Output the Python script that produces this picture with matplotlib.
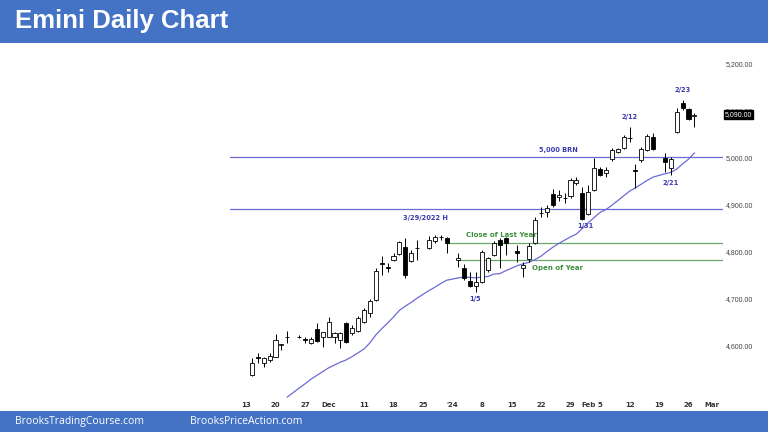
import matplotlib
matplotlib.use("Agg")
import matplotlib.pyplot as plt
from matplotlib.patches import Rectangle

# ---------------- data ----------------
# trading-day index: weekdays counted from Mon 13 Nov 2023 (=0)
day_idx = [1, 2, 3, 4, 5, 6, 7, 9, 10, 11, 12, 13, 14, 15, 16, 17, 18, 19,
           20, 21, 22, 23, 24, 25, 26, 27, 28, 29, 31, 32, 33, 34, 36, 37, 38, 39,
           40, 41, 42, 43, 44, 46, 47, 48, 49, 50, 51, 52, 53, 54, 55, 56, 57, 58,
           59, 60, 61, 62, 63, 64, 65, 66, 67, 68, 69, 71, 72, 73, 74, 75, 76]
opens = [4538, 4576, 4563, 4570, 4576, 4601, 4618, 4618, 4613, 4606, 4635, 4618, 4618, 4618, 4612, 4648, 4627, 4631,
         4650, 4669, 4697, 4775, 4766, 4782, 4795, 4810, 4780, 4808, 4807, 4822, 4831, 4829, 4782, 4765, 4737, 4727,
         4735, 4761, 4793, 4824, 4829, 4801, 4765, 4784, 4818, 4882, 4884, 4922, 4916, 4914, 4918, 4945, 4924, 4880,
         4931, 4975, 4967, 4996, 5011, 5020, 5042, 4972, 4994, 5016, 5043, 4999, 4977, 5054, 5115, 5102, 5088]
highs = [4574, 4585, 4576, 4585, 4625, 4604, 4631, 4622, 4618, 4618, 4648, 4630, 4661, 4629, 4629, 4650, 4644, 4663,
         4680, 4699, 4765, 4790, 4776, 4797, 4822, 4829, 4803, 4824, 4833, 4835, 4835, 4831, 4797, 4773, 4756, 4756,
         4803, 4788, 4822, 4829, 4831, 4814, 4778, 4818, 4873, 4894, 4899, 4933, 4931, 4924, 4956, 4958, 4937, 4941,
         4998, 4979, 4979, 5020, 5020, 5047, 5064, 4986, 5022, 5050, 5051, 5009, 5001, 5104, 5122, 5105, 5094]
lows = [4536, 4563, 4555, 4565, 4576, 4590, 4606, 4616, 4606, 4604, 4608, 4597, 4618, 4606, 4595, 4606, 4623, 4629,
        4648, 4661, 4695, 4750, 4756, 4780, 4793, 4744, 4778, 4782, 4805, 4818, 4824, 4797, 4767, 4740, 4725, 4714,
        4733, 4756, 4790, 4765, 4793, 4778, 4746, 4778, 4816, 4873, 4873, 4895, 4907, 4903, 4914, 4941, 4867, 4877,
        4929, 4960, 4958, 4992, 5009, 5018, 5032, 4935, 4990, 5013, 5016, 4969, 4962, 5052, 5100, 5079, 5064]
closes = [4563, 4574, 4574, 4578, 4612, 4603, 4619, 4619, 4612, 4614, 4610, 4629, 4650, 4627, 4627, 4608, 4638, 4659,
          4676, 4695, 4758, 4773, 4765, 4790, 4820, 4750, 4797, 4807, 4824, 4831, 4830, 4818, 4786, 4744, 4727, 4735,
          4799, 4786, 4818, 4814, 4818, 4797, 4771, 4812, 4867, 4881, 4892, 4899, 4920, 4913, 4952, 4952, 4869, 4926,
          4977, 4962, 4973, 5015, 5018, 5043, 5040, 4970, 5018, 5045, 5018, 4990, 4996, 5096, 5105, 5081, 5090]

# moving average
ma_idx = [7, 9, 10, 11, 12, 13, 14, 15, 16, 17, 18, 19, 20, 21, 22, 23, 24, 25, 26, 27, 28, 29, 31, 32, 33, 34,
          36, 37, 38, 39, 40, 41, 42, 43, 44, 46, 47, 48, 49, 50, 51, 52, 53, 54, 55, 56, 57, 58, 59, 60, 61,
          62, 63, 64, 65, 66, 67, 68, 69, 71, 72, 73, 74, 75, 76]
ma_vals = [4491, 4510, 4519, 4529, 4537, 4545, 4553, 4559, 4565, 4570, 4577, 4585, 4593, 4606, 4623, 4636, 4648,
           4661, 4675, 4684, 4692, 4701, 4717, 4724, 4732, 4739, 4744, 4746, 4745, 4744, 4746, 4747, 4752, 4753,
           4759, 4770, 4774, 4777, 4783, 4790, 4800, 4809, 4817, 4824, 4831, 4837, 4849, 4861, 4872, 4883, 4889,
           4898, 4908, 4918, 4928, 4935, 4943, 4951, 4958, 4965, 4968, 4975, 4986, 4996, 5009]

# horizontal reference levels
blue_levels = [5000, 4890]
green_levels = [4819, 4782]
green_start_idx = [34, 36]

# x tick labels
xtick_idx = [0, 5, 10, 14, 20, 25, 30, 35, 40, 45, 50, 55, 58, 60, 65, 70, 75, 79]
xtick_labels = ["13", "20", "27", "Dec", "11", "18", "25", "'24", "8", "15", "22", "29",
                "Feb", "5", "12", "19", "26", "Mar"]
ytick_vals = [4600, 4700, 4800, 4900, 5000, 5100, 5200]
last_price = 5090

# annotations: (text, day index, price)
blue_notes = [("3/29/2022 H", 30.5, 4872), ("5,000 BRN", 53.0, 5016), ("1/5", 38.8, 4700),
              ("1/31", 57.5, 4854), ("2/12", 65.0, 5086), ("2/21", 72.0, 4945), ("2/23", 74.0, 5142)]
green_notes = [("Close of Last Year", 43.3, 4836), ("Open of Year", 52.8, 4764)]

# ---------------- figure ----------------
W, H = 768, 432
fig = plt.figure(figsize=(W / 100, H / 100), dpi=100)
fig.patch.set_facecolor("white")

band = "#4472C4"
fig.patches.append(Rectangle((0, 1 - 43 / H), 1, 43 / H, transform=fig.transFigure,
                             facecolor=band, edgecolor="none", zorder=0))
fig.patches.append(Rectangle((0, 0), 1, 21 / H, transform=fig.transFigure,
                             facecolor=band, edgecolor="none", zorder=0))
fig.text(15 / W, 1 - 21 / H, "Emini Daily Chart", color="white", fontsize=18.5,
         fontweight="bold", family="Liberation Sans", va="center", ha="left")
fig.text(15 / W, 10.5 / H, "BrooksTradingCourse.com", color="white", fontsize=7.5,
         family="Open Sans", va="center", ha="left")
fig.text(190 / W, 10.5 / H, "BrooksPriceAction.com", color="white", fontsize=7.5,
         family="Open Sans", va="center", ha="left")

ax_l, ax_r, ax_t, ax_b = 230, 723, 50, 398
ax = fig.add_axes([ax_l / W, 1 - ax_b / H, (ax_r - ax_l) / W, (ax_b - ax_t) / H])
ax.set_facecolor("none")
for s in ax.spines.values():
    s.set_visible(False)

px_per_day = 5.9
x0 = 246
xmin = (ax_l - x0) / px_per_day
xmax = (ax_r - x0) / px_per_day
ppp = 2.123  # price per pixel
ymax = 5000 + (157.3 - ax_t) * ppp
ymin = 5000 - (ax_b - 157.3) * ppp
ax.set_xlim(xmin, xmax)
ax.set_ylim(ymin, ymax)

line_blue = "#6B6BD6"
green = "#6AA86A"
for lv in blue_levels:
    ax.axhline(lv, color=line_blue, lw=0.9, zorder=1)
for lv, st in zip(green_levels, green_start_idx):
    ax.hlines(lv, st, xmax, color=green, lw=0.9, zorder=1)

ax.plot(ma_idx, ma_vals, color=line_blue, lw=0.9, zorder=2)

bw = 0.68
for i, o, h, l, c in zip(day_idx, opens, highs, lows, closes):
    ax.vlines(i, l, h, color="black", lw=0.7, zorder=3)
    lo, hi = min(o, c), max(o, c)
    body_h = max(hi - lo, 1.2)
    fc = "white" if c >= o else "black"
    ax.add_patch(Rectangle((i - bw / 2, lo), bw, body_h, facecolor=fc,
                           edgecolor="black", lw=0.6, zorder=4))

note_blue = "#3A3AB0"
for t, xi, yv in blue_notes:
    ax.text(xi, yv, t, color=note_blue, fontsize=4.8, fontweight="bold",
            ha="center", va="center", zorder=5)
for t, xi, yv in green_notes:
    ax.text(xi, yv, t, color="#3E8E3E", fontsize=5, fontweight="bold",
            ha="center", va="center", zorder=5)

ax.set_xticks(xtick_idx)
ax.set_xticklabels(xtick_labels, fontsize=5, fontweight="bold", color="#333333")
ax.tick_params(axis="x", length=0, pad=3)
ax.yaxis.tick_right()
ax.set_yticks(ytick_vals)
ax.set_yticklabels([f"{v:,.2f}" for v in ytick_vals], fontsize=5, color="#444444",
                   family="Liberation Sans")
ax.tick_params(axis="y", length=0, pad=2)

ax.text(1.0 + 2 / (ax_r - ax_l), last_price, f"{last_price:,.2f}",
        transform=ax.get_yaxis_transform(),
        fontsize=5, color="white", family="Liberation Sans", ha="left", va="center",
        bbox=dict(boxstyle="square,pad=0.15", facecolor="black", edgecolor="black"),
        zorder=6, clip_on=False)

fig.savefig("out.png", dpi=100)
